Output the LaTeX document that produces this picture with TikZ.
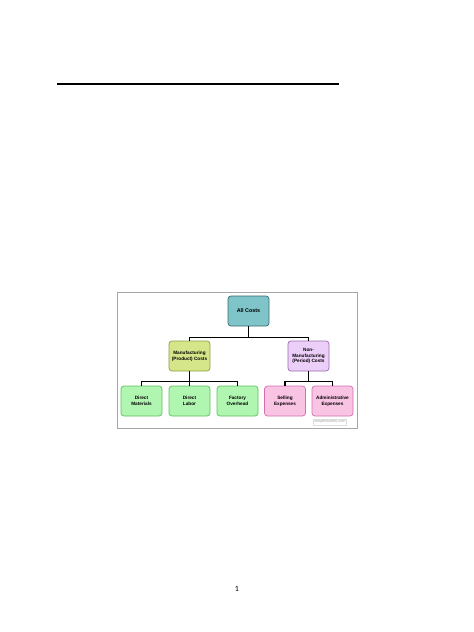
\documentclass[tikz,border=0pt]{standalone}
\usepackage{fontspec}
\setmainfont{Carlito}
\newfontfamily\boxfont{Liberation Sans}

\definecolor{allfill}{RGB}{126,196,200}
\definecolor{allline}{RGB}{58,106,112}
\definecolor{manufill}{RGB}{213,229,138}
\definecolor{manuline}{RGB}{138,160,64}
\definecolor{periodfill}{RGB}{236,207,248}
\definecolor{periodline}{RGB}{154,106,176}
\definecolor{prodfill}{RGB}{176,245,176}
\definecolor{prodline}{RGB}{96,192,96}
\definecolor{sellfill}{RGB}{249,195,227}
\definecolor{sellline}{RGB}{208,112,176}

\begin{document}
\begin{tikzpicture}[x=1pt,y=-1pt,
  costbox/.style={draw, rounded corners=3pt, line width=0.7pt, minimum width=41pt, minimum height=30pt, inner sep=1pt, align=center, font=\boxfont\bfseries\fontsize{4.7}{5.6}\selectfont},
  link/.style={draw, line width=1.1pt}]
  \useasboundingbox (0,0) rectangle (474,632);
  % rule at the top of the page
  \draw[line width=1.1pt] (57,84) -- (339,84);
  % frame of the chart
  \draw[gray!70, line width=0.8pt] (117,292) rectangle (357,428);
  \node[draw=gray!25, line width=0.4pt, inner sep=1pt, text=gray!70, font=\boxfont\fontsize{3.8}{4}\selectfont] (mark) at (330,422) {simplestudies.com};
  % boxes
  \node[costbox, draw=allline, fill=allfill, font=\boxfont\bfseries\fontsize{5.4}{6}\selectfont] (all) at (248.5,311) {All Costs};
  \node[costbox, draw=manuline, fill=manufill] (manu) at (189.5,356) {Manufacturing\\(Product) Costs};
  \node[costbox, draw=periodline, fill=periodfill] (nonmanu) at (308.5,356) {Non-\\Manufacturing\\(Period) Costs};
  \node[costbox, draw=prodline, fill=prodfill] (dm) at (141.5,401) {Direct\\Materials};
  \node[costbox, draw=prodline, fill=prodfill] (dl) at (189.5,401) {Direct\\Labor};
  \node[costbox, draw=prodline, fill=prodfill] (fo) at (237.5,401) {Factory\\Overhead};
  \node[costbox, draw=sellline, fill=sellfill] (sell) at (285,401) {Selling\\Expenses};
  \node[costbox, draw=sellline, fill=sellfill] (admin) at (332.5,401) {Administrative\\Expenses};
  % connectors
  \draw[link] (all.south) -- ++(0,11) coordinate (topsplit);
  \draw[link] (manu.north) |- (topsplit) -| (nonmanu.north);
  \draw[link] (manu.south) -- ++(0,10) coordinate (manusplit);
  \draw[link] (dm.north) |- (manusplit) -| (fo.north);
  \draw[link] (manusplit) -- (dl.north);
  \draw[link] (nonmanu.south) -- ++(0,10) coordinate (periodsplit);
  \draw[link] (sell.north) |- (periodsplit) -| (admin.north);
  % page number
  \node[font=\fontsize{8}{9}\selectfont] (page) at (237,589) {1};
\end{tikzpicture}
\end{document}
